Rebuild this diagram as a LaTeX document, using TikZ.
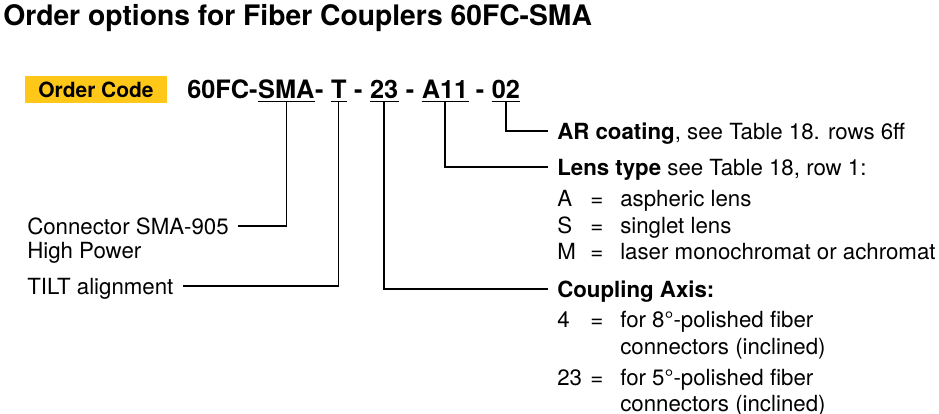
\documentclass[tikz,border=0pt]{standalone}
\usepackage{fontspec}
\setmainfont{TeX Gyre Heros}
\usetikzlibrary{positioning}

\definecolor{codeyellow}{RGB}{255,200,24}

\tikzset{
  lbl/.style={inner ysep=0pt, inner xsep=6.75pt, text height=12pt, text depth=0pt,
    font=\fontsize{16.7}{20}\selectfont},
  item/.style={inner sep=0pt, anchor=west, text height=12pt, text depth=0pt,
    font=\fontsize{16.7}{20}\selectfont},
  codepart/.style={inner sep=0pt, anchor=base west, text depth=2.3pt,
    font=\fontsize{19}{23}\selectfont\bfseries},
  conn/.style={line width=1.1pt},
}

\begin{document}
\begin{tikzpicture}[x=0.75pt,y=-0.75pt]
  \useasboundingbox (0,0) rectangle (939,414);

  % title
  \node[inner sep=0pt, anchor=base west, font=\fontsize{21.2}{25}\selectfont\bfseries]
    (title) at (3,25) {Order options for Fiber Couplers 60FC-SMA};

  % order code
  \node[fill=codeyellow, minimum width=106pt, minimum height=20.25pt, inner sep=0pt,
    font=\fontsize{15.7}{19}\selectfont\bfseries] (oc) at (96,89.5) {Order Code};
  \node[codepart] (c0) at (187,98) {60FC-};
  \node[codepart] (csma) at (c0.base east) {SMA};
  \node[codepart] (c1) at (csma.base east) {-~\null};
  \node[codepart] (ct) at (c1.base east) {T};
  \node[codepart] (c2) at (ct.base east) {\null~-~\null};
  \node[codepart] (c23) at (c2.base east) {23};
  \node[codepart] (c3) at (c23.base east) {\null~-~\null};
  \node[codepart] (ca) at (c3.base east) {A11};
  \node[codepart] (c4) at (ca.base east) {\null~-~\null};
  \node[codepart] (c02) at (c4.base east) {02};
  \foreach \p in {csma,ct,c23,ca,c02}
    \draw[conn] (\p.south west) -- (\p.south east);

  % left side
  \node[lbl, anchor=west] (sma) at (18,226) {Connector SMA-905};
  \node[item] (hp) at (27,250) {High Power};
  \node[lbl, anchor=west] (tilt) at (18,286) {TILT alignment};

  % right side
  \node[lbl, anchor=west] (ar) at (548,131) {\textbf{AR coating}, see Table 18. rows 6ff};
  \node[lbl, anchor=west] (lens) at (548,167) {\textbf{Lens type} see Table 18, row 1:};
  \node[item] (ka) at (557,198) {A};
  \node[item] (ea) at (590,198) {=};
  \node[item] (ta) at (620,198) {aspheric lens};
  \node[item] (ks) at (557,225) {S};
  \node[item] (es) at (590,225) {=};
  \node[item] (ts) at (620,225) {singlet lens};
  \node[item] (km) at (557,251) {M};
  \node[item] (em) at (590,251) {=};
  \node[item] (tm) at (620,251) {laser monochromat or achromat};
  \node[lbl, anchor=west] (axis) at (548,289) {\textbf{Coupling Axis:}};
  \node[item] (k4) at (557,319) {4};
  \node[item] (e4) at (590,319) {=};
  \node[item] (t4) at (620,319) {for 8°-polished fiber};
  \node[item] (t4b) at (620,346) {connectors (inclined)};
  \node[item] (k23) at (557,377) {23};
  \node[item] (e23) at (590,377) {=};
  \node[item] (t23) at (620,377) {for 5°-polished fiber};
  \node[item] (t23b) at (620,403) {connectors (inclined)};

  % connectors
  \draw[conn] (csma.south) |- (sma.east);
  \draw[conn] (ct.south) |- (tilt.east);
  \draw[conn] (c23.south) |- (axis.west);
  \draw[conn] (ca.south) |- (lens.west);
  \draw[conn] (c02.south) |- (ar.west);
\end{tikzpicture}
\end{document}
